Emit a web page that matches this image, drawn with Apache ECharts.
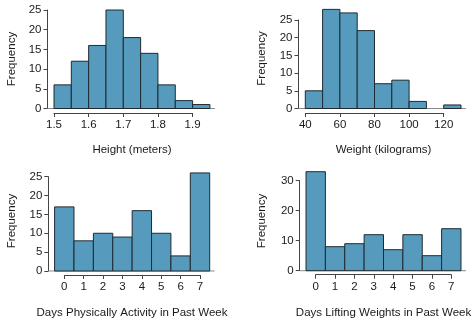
<!DOCTYPE html>
<html>
<head>
<meta charset="utf-8">
<script src="https://cdn.jsdelivr.net/npm/echarts@6/dist/echarts.min.js"></script>
<style>
html,body{margin:0;padding:0;background:#fff;}
#c{width:474px;height:323px;}
</style>
</head>
<body>
<div id="c"></div>
<script>
// ---- data ----
const heightEdges = [1.5, 1.55, 1.6, 1.65, 1.7, 1.75, 1.8, 1.85, 1.9, 1.95];
const heightCounts = [6, 12, 16, 25, 18, 14, 6, 2, 1];
const weightEdges = [40, 50, 60, 70, 80, 90, 100, 110, 120, 130];
const weightCounts = [5, 28, 27, 22, 7, 8, 2, 0, 1];
const activeEdges = [-0.5, 0.5, 1.5, 2.5, 3.5, 4.5, 5.5, 6.5, 7.5];
const activeCounts = [17, 8, 10, 9, 16, 10, 4, 26];
const liftEdges = [-0.5, 0.5, 1.5, 2.5, 3.5, 4.5, 5.5, 6.5, 7.5];
const liftCounts = [33, 8, 9, 12, 7, 12, 5, 14];
const xTitles = ['Height (meters)', 'Weight (kilograms)', 'Days Physically Activity in Past Week', 'Days Lifting Weights in Past Week'];
const yTitle = 'Frequency';

const FONT = "'Liberation Sans', Arial, Helvetica, sans-serif";
const BAR = '#569BBD';
const EDGE = '#1f2a30';
const AX = '#444';
const FS = 11.5;

const panels = [
  {edges: heightEdges, counts: heightCounts, grid:{left:54, top:10, width:138.6, height:98.5},
   x:{min:1.5, max:1.9, interval:0.1}, y:{min:0, max:25, interval:5}, yOff:6.5, xOff:4.5,
   titleX:132, titleY:150, fX:12, fY:59},
  {edges: weightEdges, counts: weightCounts, grid:{left:305.3, top:20, width:138.4, height:88.5},
   x:{min:40, max:120, interval:20}, y:{min:0, max:25, interval:5}, yOff:6.8, xOff:4.5,
   titleX:383.5, titleY:150, fX:262, fY:58.5},
  {edges: activeEdges, counts: activeCounts, grid:{left:64.3, top:176.7, width:135.7, height:94.3},
   x:{min:0, max:7, interval:1}, y:{min:0, max:25, interval:5}, yOff:16, xOff:4,
   titleX:132, titleY:313, fX:12, fY:221},
  {edges: liftEdges, counts: liftCounts, grid:{left:315.7, top:180.7, width:135.6, height:90},
   x:{min:0, max:7, interval:1}, y:{min:0, max:30, interval:10}, yOff:16, xOff:4,
   titleX:383.5, titleY:313, fX:262, fY:221}
];

const grids = [], xAxes = [], yAxes = [], series = [], graphics = [];
panels.forEach((p, i) => {
  grids.push(Object.assign({containLabel:false}, p.grid));
  xAxes.push({
    type:'value', gridIndex:i, min:p.x.min, max:p.x.max, interval:p.x.interval,
    offset:p.xOff,
    axisLine:{show:true, onZero:false, lineStyle:{color:AX, width:1}},
    axisTick:{show:true, length:4, lineStyle:{color:AX}},
    axisLabel:{color:'#1a1a1a', fontSize:FS, fontFamily:FONT, margin:6},
    splitLine:{show:false}
  });
  yAxes.push({
    type:'value', gridIndex:i, min:p.y.min, max:p.y.max, interval:p.y.interval,
    offset:p.yOff,
    axisLine:{show:true, onZero:false, lineStyle:{color:AX, width:1}},
    axisTick:{show:true, length:4, lineStyle:{color:AX}},
    axisLabel:{color:'#1a1a1a', fontSize:FS, fontFamily:FONT, margin:6},
    splitLine:{show:false}
  });
  const data = p.counts.map((c, k) => [p.edges[k], p.edges[k+1], c]);
  const lastEdge = p.edges[p.edges.length - 1];
  // baseline along zero
  series.push({
    type:'custom', xAxisIndex:i, yAxisIndex:i, z:1, silent:true,
    data:[[lastEdge, 0]],
    renderItem:(params, api) => {
      const cs = params.coordSys;
      const pt = api.coord([api.value(0), 0]);
      return {type:'line', shape:{x1:cs.x - p.yOff, y1:pt[1], x2:pt[0] + 5, y2:pt[1]},
              style:{stroke:'#8a8a8a', lineWidth:1}};
    }
  });
  series.push({
    type:'custom', xAxisIndex:i, yAxisIndex:i, z:2, clip:false,
    data:data,
    encode:{x:[0,1], y:2},
    renderItem:(params, api) => {
      const v = api.value(2);
      if (!v) return null;
      const a = api.coord([api.value(0), 0]);
      const b = api.coord([api.value(1), v]);
      return {type:'rect', shape:{x:a[0], y:b[1], width:b[0]-a[0], height:a[1]-b[1]},
              style:{fill:BAR, stroke:EDGE, lineWidth:1}};
    }
  });
  graphics.push({type:'text', x:p.titleX, y:p.titleY,
    style:{text:xTitles[i], font:FS + 'px ' + FONT, fill:'#1a1a1a', textAlign:'center', textVerticalAlign:'middle'}});
  graphics.push({type:'text', x:p.fX, y:p.fY, rotation:Math.PI/2,
    style:{text:yTitle, font:FS + 'px ' + FONT, fill:'#1a1a1a', textAlign:'center', textVerticalAlign:'middle'}});
});

const chart = echarts.init(document.getElementById('c'), null, {renderer:'canvas'});
chart.setOption({
  backgroundColor:'#fff',
  animation:false,
  grid:grids, xAxis:xAxes, yAxis:yAxes, series:series, graphic:graphics
});
</script>
</body>
</html>
